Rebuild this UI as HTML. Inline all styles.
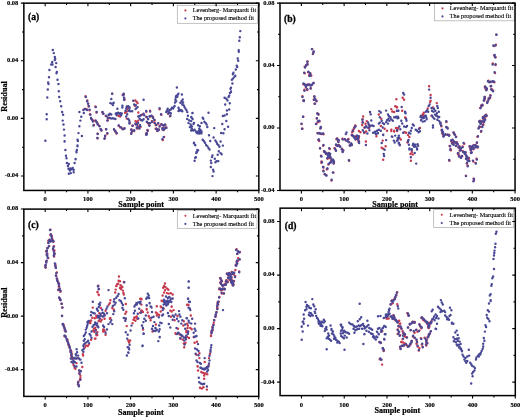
<!DOCTYPE html>
<html><head><meta charset="utf-8"><title>Residual plots</title>
<style>
html,body{margin:0;padding:0;background:#fff;}
body{width:520px;height:417px;overflow:hidden;}
svg{display:block;}
.tk{font-family:"Liberation Serif",serif;font-weight:bold;font-size:6.5px;fill:#000;stroke:#000;stroke-width:0.15px;}
.ttl{font-family:"Liberation Serif",serif;font-weight:bold;font-size:8.1px;fill:#000;stroke:#000;stroke-width:0.2px;}
.pl{font-family:"Liberation Serif",serif;font-weight:bold;font-size:9.6px;fill:#000;stroke:#000;stroke-width:0.3px;}
.rs{font-family:"Liberation Serif",serif;font-weight:bold;font-size:8.2px;fill:#000;stroke:#000;stroke-width:0.2px;}
.lg{font-family:"Liberation Serif",serif;font-size:6.22px;fill:#000;stroke:#000;stroke-width:0.12px;}
</style></head>
<body><svg width="520" height="417" viewBox="0 0 520 417">
<rect width="520" height="417" fill="#fff"/>
<path d="M85.6 96.3h0M87.3 100.5h0M88.1 103.6h0M88.5 106.2h0M84.6 108.9h0M86.6 109.3h0M89.5 110.2h0M89.9 114.3h0M91.2 118.8h0M92.0 119.4h0M93.5 120.7h0M93.9 125.0h0M95.4 106.4h0M96.5 112.5h0M95.4 120.7h0M96.9 122.3h0M97.8 123.6h0M99.1 125.8h0M100.8 129.1h0M101.3 130.4h0M97.6 133.6h0M97.7 138.3h0M106.0 129.3h0M107.3 133.8h0M105.3 135.6h0M105.0 138.1h0M102.4 112.4h0M103.1 113.8h0M105.7 116.1h0M108.0 117.8h0M107.8 120.3h0M109.0 115.0h0M112.2 93.6h0M114.4 130.0h0M115.4 131.5h0M116.4 133.5h0M123.9 94.6h0M129.8 123.1h0M118.7 125.7h0M120.2 127.2h0M122.3 128.5h0M124.1 128.8h0M131.9 130.7h0M134.1 130.9h0M136.6 124.3h0M146.3 111.7h0M135.8 124.4h0M137.8 122.9h0M139.9 125.8h0M137.9 126.5h0M139.0 128.0h0M132.4 125.8h0M131.4 129.4h0M146.2 116.9h0M148.0 119.1h0M150.0 116.6h0M151.5 115.9h0M153.1 116.9h0M154.7 120.2h0M147.2 122.2h0M148.1 122.9h0M149.7 123.3h0M149.0 125.0h0M151.9 121.1h0M150.0 110.8h0M154.3 122.5h0M155.7 124.9h0M157.7 123.8h0M159.7 125.8h0M161.3 124.1h0M163.4 125.1h0M165.4 125.3h0M166.3 127.8h0M156.4 128.4h0M158.7 129.4h0M162.7 127.9h0M163.7 129.9h0M147.5 129.9h0M146.9 133.6h0M159.6 109.2h0M161.4 114.7h0M168.1 113.4h0M170.0 116.2h0M132.0 131.6h0M131.1 133.2h0M137.1 128.6h0M140.5 126.9h0M147.9 130.8h0M146.5 133.1h0M146.0 133.9h0M155.6 128.6h0M157.3 131.0h0M164.1 137.0h0M162.8 140.0h0M164.8 128.2h0M162.7 129.2h0M122.7 94.8h0M124.2 98.4h0M124.5 99.7h0M135.2 100.4h0M136.6 101.7h0M137.6 103.1h0M134.9 105.8h0M127.0 106.9h0M129.0 107.4h0M127.5 109.1h0M126.8 111.5h0M125.1 112.8h0M126.8 118.6h0M117.2 113.7h0M118.7 115.9h0M120.1 116.5h0M138.3 112.5h0M142.3 114.5h0M135.6 121.2h0M136.9 121.9h0M138.3 120.6h0" stroke="#c63a4e" stroke-width="2.45" stroke-linecap="round" fill="none"/>
<path d="M52.8 50.0h0M53.8 53.1h0M54.8 56.9h0M55.2 58.8h0M54.8 60.0h0M52.2 61.9h0M51.2 64.4h0M52.5 64.4h0M56.2 63.1h0M55.6 66.9h0M49.4 70.0h0M56.9 71.9h0M56.5 73.2h0M49.0 77.2h0M57.5 79.8h0M48.1 82.5h0M48.5 84.0h0M58.5 84.0h0M47.8 89.4h0M58.8 91.2h0M47.3 97.5h0M46.7 114.2h0M46.7 119.2h0M45.4 140.8h0M59.2 96.9h0M60.2 101.3h0M61.2 106.2h0M62.1 111.9h0M63.1 114.8h0M62.7 120.6h0M63.5 124.4h0M64.0 129.6h0M64.6 135.4h0M64.6 141.2h0M75.6 159.0h0M76.5 152.3h0M77.5 146.2h0M77.5 139.8h0M78.5 133.1h0M79.4 126.3h0M80.4 120.6h0M81.3 116.7h0M81.9 136.0h0M79.4 111.9h0M83.3 110.0h0M85.8 96.9h0M87.1 101.3h0M88.1 103.8h0M89.0 106.2h0M85.2 109.0h0M87.1 110.0h0M89.6 109.6h0M83.8 112.9h0M90.4 114.8h0M91.0 118.0h0M91.9 119.6h0M92.9 121.5h0M93.5 125.4h0M95.8 107.1h0M96.7 111.9h0M95.8 120.6h0M96.7 122.5h0M97.7 124.4h0M99.6 126.3h0M100.6 129.2h0M101.5 130.2h0M97.7 134.0h0M97.3 137.9h0M106.3 129.2h0M107.3 133.1h0M105.0 136.0h0M104.4 138.8h0M102.5 111.9h0M103.5 113.8h0M106.3 115.8h0M107.7 117.7h0M107.3 120.6h0M108.8 114.8h0M112.1 93.7h0M114.0 129.2h0M115.4 131.2h0M116.9 133.1h0M123.7 93.7h0M129.4 123.5h0M118.8 125.4h0M120.8 127.3h0M122.7 129.2h0M124.6 128.3h0M132.3 131.2h0M134.2 130.2h0M137.1 124.4h0M64.6 141.5h0M65.4 150.0h0M66.0 155.8h0M66.5 158.3h0M66.9 163.0h0M68.8 164.0h0M67.9 166.0h0M68.5 168.8h0M70.4 168.5h0M71.7 169.2h0M69.8 170.4h0M72.7 167.9h0M73.7 169.8h0M68.8 173.7h0M70.8 173.1h0M73.7 172.3h0M74.6 163.0h0M75.6 159.2h0M76.5 151.5h0M76.9 150.0h0M77.5 145.4h0M77.9 141.0h0M146.2 111.0h0M135.4 123.7h0M138.1 123.1h0M140.1 125.1h0M137.4 127.1h0M139.4 128.5h0M132.7 125.8h0M131.3 129.8h0M146.8 117.0h0M148.2 119.0h0M149.5 116.3h0M151.5 115.7h0M152.9 117.7h0M154.2 119.7h0M146.8 121.7h0M148.2 123.1h0M150.2 123.1h0M149.5 125.8h0M152.2 121.7h0M150.2 111.6h0M154.9 123.1h0M156.2 125.1h0M158.3 123.1h0M159.6 126.4h0M161.6 124.4h0M163.6 125.8h0M165.0 124.4h0M166.3 127.8h0M156.9 129.1h0M158.9 129.8h0M162.3 128.5h0M164.3 129.1h0M147.5 130.5h0M146.8 134.5h0M159.6 108.3h0M161.0 114.3h0M168.4 113.6h0M170.4 115.7h0M187.9 115.7h0M187.2 119.0h0M189.2 120.4h0M188.5 123.1h0M190.6 124.4h0M191.9 126.4h0M189.9 127.1h0M192.6 113.0h0M191.2 117.0h0M192.6 119.0h0M194.6 129.8h0M196.0 131.8h0M197.3 133.2h0M132.0 131.1h0M131.3 133.7h0M136.7 127.7h0M140.1 126.3h0M147.5 130.4h0M146.8 133.1h0M146.2 134.7h0M156.2 129.0h0M157.6 130.7h0M163.6 137.1h0M162.3 139.1h0M164.3 128.4h0M163.0 129.7h0M191.9 129.0h0M193.3 130.4h0M196.6 132.4h0M193.9 143.2h0M195.3 145.2h0M197.3 149.9h0M196.6 151.9h0M195.9 157.3h0M194.6 160.7h0M192.3 113.1h0M191.7 117.7h0M191.2 121.1h0M194.0 122.9h0M193.5 124.0h0M190.6 126.9h0M191.7 129.2h0M191.2 130.4h0M202.7 117.7h0M203.3 118.8h0M208.5 112.8h0M201.5 122.9h0M204.4 121.7h0M205.6 122.9h0M206.7 124.6h0M207.3 126.9h0M198.1 125.2h0M199.8 126.3h0M199.2 128.6h0M200.4 129.8h0M198.7 130.9h0M201.5 131.5h0M196.9 132.7h0M199.8 133.3h0M201.5 133.3h0M214.2 128.1h0M230.9 92.1h0M229.2 95.8h0M228.6 96.9h0M224.6 97.8h0M226.3 98.7h0M227.5 100.4h0M225.2 104.4h0M229.8 103.3h0M226.9 110.5h0M229.2 109.4h0M222.9 116.0h0M224.6 115.4h0M226.9 114.2h0M226.3 120.9h0M222.3 124.0h0M228.1 126.7h0M224.6 129.2h0M221.1 132.9h0M223.4 133.3h0M196.3 131.7h0M198.7 131.2h0M200.4 132.3h0M199.2 133.5h0M201.5 131.7h0M209.0 135.2h0M213.6 137.5h0M210.2 141.0h0M202.7 139.8h0M203.8 141.0h0M205.0 142.7h0M206.1 145.0h0M207.3 146.1h0M208.5 147.9h0M209.6 149.6h0M194.0 142.7h0M195.2 145.0h0M215.4 140.4h0M216.5 142.1h0M217.1 143.8h0M218.3 145.0h0M219.4 146.7h0M220.6 141.5h0M222.9 145.6h0M198.1 150.2h0M196.9 151.9h0M196.3 153.1h0M218.8 151.3h0M220.6 153.1h0M221.7 154.2h0M217.7 154.8h0M212.5 155.4h0M211.9 157.1h0M214.8 158.8h0M216.5 161.1h0M218.3 161.1h0M215.4 162.3h0M210.8 160.6h0M211.3 162.9h0M195.2 157.7h0M194.6 160.6h0M210.8 166.9h0M213.1 169.8h0M213.6 171.5h0M212.5 176.1h0M240.3 31.1h0M239.8 37.3h0M239.3 40.7h0M238.7 50.3h0M238.8 51.7h0M237.7 58.5h0M238.2 60.8h0M236.7 65.6h0M237.2 67.0h0M235.8 69.4h0M233.4 72.8h0M232.9 74.2h0M235.3 75.7h0M234.3 77.1h0M232.9 78.6h0M231.9 79.8h0M232.4 83.4h0M231.0 87.7h0M230.5 88.7h0M231.0 91.5h0M230.0 93.0h0M111.3 99.0h0M110.3 103.1h0M112.0 103.7h0M113.7 102.7h0M113.0 105.1h0M123.1 95.3h0M124.1 97.7h0M124.1 99.7h0M122.4 105.8h0M122.4 107.4h0M117.4 108.8h0M133.2 100.7h0M134.2 104.4h0M135.9 105.1h0M136.6 107.8h0M137.6 107.1h0M135.6 109.1h0M143.6 99.7h0M126.8 106.4h0M128.2 106.1h0M129.5 107.1h0M126.2 108.5h0M129.5 108.5h0M125.5 110.8h0M128.8 110.8h0M130.2 111.2h0M132.2 111.2h0M127.2 114.2h0M126.2 116.5h0M128.2 118.9h0M129.2 120.2h0M129.5 121.9h0M115.7 113.8h0M116.7 113.2h0M118.1 112.8h0M119.4 113.8h0M120.4 113.2h0M121.8 113.5h0M116.7 115.2h0M121.1 115.2h0M110.0 113.8h0M111.3 114.5h0M110.0 117.9h0M111.3 118.6h0M112.7 118.2h0M114.0 118.6h0M115.4 118.9h0M138.3 116.5h0M139.6 115.9h0M141.0 115.2h0M143.6 113.8h0M144.3 115.2h0M139.6 118.6h0M141.0 119.9h0M142.3 120.6h0M143.6 119.2h0M176.9 87.5h0M178.5 93.6h0M177.7 94.8h0M176.2 95.9h0M175.8 97.5h0M177.3 96.7h0M181.9 94.4h0M175.4 99.8h0M176.2 101.3h0M175.0 102.5h0M182.7 99.4h0M181.5 101.3h0M180.4 102.8h0M183.1 102.5h0M182.3 104.4h0M183.8 105.5h0M184.6 107.1h0M185.4 108.6h0M186.5 110.2h0M187.3 112.1h0M174.6 105.9h0M173.8 107.1h0M173.1 108.6h0M171.9 107.8h0M170.8 109.4h0M169.6 110.2h0M168.5 111.3h0M167.7 108.6h0M166.9 110.5h0M166.2 112.1h0M169.2 112.8h0M170.8 113.2h0M178.5 107.8h0M179.2 109.4h0M180.4 110.5h0M181.5 110.2h0M182.3 111.3h0M178.5 110.9h0" stroke="#484896" stroke-width="2.45" stroke-linecap="round" fill="none"/>
<path d="M312.2 49.1h0M313.4 52.0h0M312.9 54.0h0M307.7 61.4h0M307.4 64.8h0M306.4 64.9h0M304.7 66.8h0M304.7 73.3h0M308.1 72.3h0M310.5 73.5h0M310.2 75.2h0M309.1 75.2h0M311.3 75.6h0M303.5 84.3h0M304.8 85.1h0M306.7 84.9h0M307.5 84.5h0M308.9 84.6h0M310.4 85.3h0M311.7 85.1h0M313.4 82.9h0M306.0 87.5h0M307.2 90.0h0M310.7 88.4h0M304.4 89.8h0M302.4 96.3h0M303.3 100.8h0M314.1 96.4h0M315.3 98.9h0M313.8 99.8h0M316.5 101.3h0M314.5 103.8h0M303.6 100.6h0M303.3 116.8h0M301.6 124.1h0M302.5 128.7h0M317.5 113.5h0M318.4 114.5h0M316.8 118.4h0M317.9 122.0h0M319.5 121.4h0M316.5 123.6h0M320.9 127.7h0M320.7 127.7h0M317.4 133.1h0M319.3 133.0h0M321.2 134.0h0M323.5 134.2h0M318.4 139.8h0M337.3 138.4h0M319.2 140.9h0M323.2 145.7h0M320.0 148.3h0M329.8 148.9h0M324.0 151.1h0M325.4 152.3h0M326.4 153.3h0M328.1 154.1h0M328.9 153.0h0M329.6 153.7h0M329.8 156.0h0M330.2 158.3h0M327.6 158.7h0M321.0 156.0h0M332.5 160.3h0M331.3 160.6h0M333.9 162.4h0M330.6 162.3h0M328.4 164.5h0M333.7 163.6h0M321.5 161.4h0M323.2 166.9h0M326.8 169.3h0M349.1 160.8h0M336.4 139.3h0M338.3 140.8h0M338.3 141.7h0M336.1 145.2h0M337.1 145.2h0M338.8 144.9h0M339.8 146.2h0M334.5 148.3h0M335.8 150.3h0M342.0 148.8h0M343.2 150.1h0M342.5 151.2h0M342.4 138.7h0M344.9 139.2h0M346.1 140.6h0M348.5 138.9h0M348.9 141.9h0M350.4 145.0h0M349.8 145.4h0M351.5 144.4h0M356.9 136.4h0M354.4 136.9h0M356.1 138.4h0M357.6 138.9h0M358.5 141.9h0M321.0 155.7h0M321.4 162.7h0M323.5 167.6h0M323.3 170.8h0M324.6 174.1h0M326.1 175.3h0M327.2 169.3h0M333.5 172.6h0M331.4 180.6h0M324.0 151.4h0M325.9 153.8h0M328.3 156.9h0M329.6 154.6h0M330.0 157.7h0M331.8 159.6h0M333.5 160.6h0M330.9 161.6h0M353.0 135.7h0M354.6 137.3h0M359.0 136.8h0M378.8 114.4h0M381.3 118.8h0M380.8 126.0h0M391.3 109.1h0M392.3 111.5h0M394.2 112.0h0M395.2 106.3h0M397.1 107.2h0M384.6 128.8h0M387.0 130.8h0M391.3 129.8h0M394.2 130.8h0M398.1 127.9h0M351.8 135.0h0M354.4 136.6h0M355.6 139.4h0M356.2 136.4h0M358.7 137.9h0M351.3 144.1h0M351.5 144.9h0M358.7 140.6h0M365.9 141.5h0M376.4 136.3h0M382.7 140.6h0M381.7 147.8h0M383.2 148.8h0M385.6 146.3h0M383.2 159.8h0M391.3 131.0h0M394.2 131.4h0M397.1 131.0h0M396.4 99.2h0M402.7 97.8h0M404.1 99.7h0M396.0 106.4h0M396.9 107.4h0M402.2 110.8h0M405.1 117.5h0M429.1 86.3h0M430.6 94.9h0M430.6 100.7h0M430.1 102.1h0M427.7 108.4h0M423.8 112.7h0M422.9 114.1h0M421.9 116.1h0M436.8 103.1h0M433.0 107.4h0M405.6 117.8h0M396.0 127.9h0M397.4 129.8h0M404.6 132.2h0M406.1 132.7h0M408.0 135.1h0M409.4 137.0h0M399.3 138.0h0M400.8 139.4h0M420.0 127.9h0M422.9 114.9h0M431.5 115.8h0M408.0 141.0h0M407.5 142.4h0M410.4 154.0h0M411.8 152.0h0M412.8 154.4h0M410.9 160.7h0M440.5 123.3h0M441.4 126.2h0M446.4 122.0h0M446.5 127.3h0M447.4 127.7h0M441.5 130.1h0M442.4 132.4h0M442.5 133.5h0M444.0 135.5h0M443.4 135.7h0M445.7 134.6h0M447.7 134.8h0M449.3 134.9h0M453.8 132.4h0M454.4 134.3h0M456.2 136.6h0M451.4 141.4h0M452.5 139.8h0M453.9 141.7h0M455.7 142.6h0M457.0 142.1h0M457.4 143.9h0M452.3 143.0h0M453.6 143.9h0M449.6 145.9h0M456.1 146.1h0M459.4 146.3h0M460.7 148.1h0M462.6 146.5h0M450.6 149.1h0M464.2 143.7h0M459.6 150.5h0M464.4 152.8h0M465.4 152.1h0M458.0 154.3h0M469.5 146.4h0M470.9 146.7h0M473.7 145.1h0M475.5 145.3h0M477.0 146.7h0M477.7 147.4h0M471.7 147.8h0M473.1 148.2h0M470.7 149.7h0M471.3 152.2h0M476.8 143.0h0M477.4 136.7h0M478.9 127.8h0M479.9 126.9h0M480.9 123.3h0M479.2 121.5h0M483.4 124.8h0M484.0 121.6h0M484.9 119.0h0M483.3 119.0h0M481.0 131.7h0M482.0 126.6h0M482.8 117.4h0M485.2 115.4h0M486.4 116.3h0M450.9 150.2h0M449.4 160.7h0M458.4 153.2h0M459.3 155.7h0M461.1 157.6h0M462.2 156.3h0M462.8 151.1h0M465.3 153.0h0M466.0 155.1h0M466.9 156.9h0M468.9 157.9h0M466.2 158.4h0M467.8 160.4h0M469.0 160.5h0M466.7 163.6h0M467.7 165.8h0M473.4 161.5h0M475.7 162.9h0M476.5 158.7h0M470.9 152.4h0M470.3 148.6h0M473.5 149.2h0M476.1 147.1h0M476.8 146.7h0M465.9 175.8h0M473.5 178.6h0M474.0 180.6h0M458.5 147.5h0M460.6 148.0h0M460.5 149.7h0M496.3 34.6h0M493.9 46.1h0M495.9 44.6h0M494.1 55.4h0M495.6 57.2h0M492.8 63.5h0M495.5 65.0h0M495.0 72.9h0M488.5 80.8h0M488.8 81.6h0M490.8 82.0h0M493.2 81.7h0M494.3 82.2h0M490.7 86.2h0M484.9 87.5h0M486.6 89.3h0M491.5 89.0h0M484.9 86.5h0M486.9 89.2h0M485.8 89.5h0M491.1 86.1h0M491.4 89.3h0M493.1 90.4h0M484.6 96.9h0M484.9 98.8h0M484.3 100.4h0M490.3 95.1h0M490.2 97.9h0M488.5 98.5h0M487.7 101.6h0M487.1 102.4h0M482.6 105.5h0M481.1 105.4h0M480.3 108.0h0M486.0 114.8h0M484.7 116.7h0M482.9 117.2h0M480.1 120.8h0M481.4 121.5h0M482.1 121.6h0M483.6 122.3h0M363.2 116.5h0M362.5 119.2h0M362.5 122.3h0M362.2 125.0h0M365.5 123.7h0M366.8 121.1h0M368.9 125.1h0M364.4 127.4h0M369.1 127.9h0M355.2 125.5h0M354.2 127.4h0M353.7 128.9h0M353.2 131.2h0M352.1 132.2h0M358.9 130.9h0M360.5 132.2h0M364.4 133.1h0M366.1 131.5h0" stroke="#c63a4e" stroke-width="2.45" stroke-linecap="round" fill="none"/>
<path d="M311.9 49.1h0M313.8 51.5h0M313.1 53.5h0M307.1 61.6h0M307.5 64.0h0M306.1 65.5h0M305.1 67.4h0M304.2 72.7h0M308.5 71.7h0M309.9 73.2h0M310.4 75.1h0M309.5 76.1h0M310.7 75.3h0M303.5 83.5h0M304.9 84.4h0M306.3 85.4h0M307.8 84.9h0M309.2 84.4h0M310.7 85.4h0M312.1 84.4h0M313.6 83.0h0M305.9 86.8h0M307.3 89.2h0M310.7 88.3h0M304.4 90.7h0M302.5 96.9h0M303.9 100.3h0M314.5 96.4h0M315.0 98.8h0M314.0 99.8h0M316.4 100.8h0M315.0 103.7h0M303.9 101.0h0M303.0 116.8h0M301.5 123.6h0M302.0 128.8h0M317.4 113.5h0M318.4 114.2h0M316.9 118.3h0M317.9 121.2h0M319.3 120.7h0M316.0 124.0h0M320.8 126.9h0M320.3 128.4h0M317.9 133.2h0M319.8 133.5h0M321.7 133.7h0M323.2 133.5h0M318.8 139.4h0M337.1 139.0h0M318.7 140.1h0M323.5 144.9h0M320.1 148.3h0M329.2 148.3h0M324.4 151.2h0M325.4 152.6h0M326.8 153.6h0M327.8 155.0h0M328.8 153.1h0M330.2 154.0h0M329.7 156.0h0M330.7 157.4h0M327.3 157.9h0M321.5 156.4h0M333.1 159.8h0M331.6 161.3h0M334.0 161.7h0M330.2 162.7h0M328.8 163.7h0M333.6 163.2h0M322.0 162.2h0M323.0 167.0h0M327.3 168.5h0M348.9 160.3h0M336.9 138.7h0M338.8 140.1h0M338.4 142.0h0M336.0 144.4h0M337.4 145.9h0M338.8 145.4h0M340.3 146.8h0M335.0 148.8h0M336.0 150.7h0M341.7 149.2h0M343.2 150.7h0M342.7 152.1h0M342.7 139.6h0M344.6 139.1h0M346.5 140.6h0M348.0 139.6h0M348.5 142.0h0M350.4 144.4h0M349.9 145.4h0M351.3 143.5h0M357.1 135.8h0M354.2 136.7h0M356.2 138.7h0M358.1 139.6h0M359.0 141.5h0M321.3 156.3h0M321.9 162.1h0M323.1 167.3h0M323.6 171.3h0M324.8 174.2h0M326.5 175.4h0M327.5 168.5h0M332.9 172.5h0M331.7 179.8h0M324.2 151.7h0M326.5 154.0h0M328.3 156.9h0M330.0 154.6h0M330.6 158.1h0M332.3 159.8h0M334.0 161.5h0M331.1 162.1h0M372.1 125.5h0M373.6 126.0h0M352.9 135.6h0M354.3 137.0h0M358.7 136.1h0M373.1 132.7h0M375.0 131.7h0M376.9 130.8h0M376.0 134.1h0M377.9 133.2h0M378.8 129.8h0M379.3 111.1h0M380.8 112.5h0M379.8 117.3h0M381.7 120.7h0M379.8 122.6h0M378.8 123.6h0M382.7 123.1h0M384.1 124.0h0M382.7 127.4h0M380.8 130.8h0M383.2 134.6h0M386.1 110.6h0M388.0 114.4h0M388.9 115.9h0M390.4 117.3h0M388.5 118.8h0M387.0 120.2h0M386.1 122.1h0M388.0 123.6h0M389.4 120.7h0M391.3 119.2h0M392.8 120.7h0M398.1 110.6h0M394.2 117.3h0M396.2 116.8h0M397.6 118.3h0M397.1 130.3h0M383.2 135.1h0M391.8 136.5h0M395.2 135.6h0M397.6 138.0h0M351.9 135.3h0M353.8 137.2h0M355.3 139.1h0M356.7 135.8h0M358.2 137.7h0M351.0 143.5h0M351.9 144.9h0M359.1 143.0h0M365.9 144.9h0M374.0 132.4h0M376.0 133.8h0M377.9 132.9h0M383.2 134.8h0M381.7 143.0h0M386.1 140.1h0M384.6 149.7h0M383.7 154.0h0M384.1 156.0h0M392.3 136.7h0M393.8 140.6h0M394.7 142.5h0M398.1 139.6h0M399.0 137.7h0M399.0 143.5h0M403.2 93.0h0M404.1 94.4h0M396.9 110.8h0M398.4 110.8h0M401.7 106.9h0M405.1 111.7h0M405.6 113.2h0M396.9 117.0h0M398.4 118.0h0M406.1 118.9h0M429.1 89.6h0M430.6 97.8h0M429.6 104.5h0M428.7 106.0h0M427.2 110.3h0M428.2 111.7h0M425.8 111.7h0M424.8 115.6h0M420.5 117.0h0M423.8 118.0h0M426.3 117.5h0M437.3 106.0h0M437.8 107.9h0M431.5 107.9h0M433.9 108.8h0M432.0 110.8h0M433.5 111.7h0M435.4 110.8h0M436.8 113.2h0M438.8 111.7h0M434.9 114.6h0M437.3 116.1h0M439.2 117.0h0M432.0 115.6h0M396.0 117.3h0M397.9 116.8h0M405.1 112.5h0M406.5 120.7h0M401.3 120.7h0M402.2 123.5h0M399.3 126.4h0M400.3 129.3h0M404.1 126.4h0M406.1 126.9h0M407.0 126.0h0M403.2 132.7h0M412.8 124.5h0M413.8 125.5h0M411.8 127.9h0M410.9 130.8h0M408.9 132.7h0M410.4 133.6h0M408.5 139.9h0M408.0 141.8h0M408.9 144.7h0M398.8 135.6h0M397.9 138.9h0M396.9 140.8h0M398.8 142.8h0M399.8 144.7h0M415.7 129.8h0M417.1 130.8h0M419.0 128.8h0M420.0 131.2h0M418.6 132.2h0M413.3 143.7h0M414.2 145.2h0M415.7 146.6h0M417.6 144.2h0M417.1 148.5h0M409.4 148.5h0M411.8 150.0h0M421.0 115.8h0M423.8 116.8h0M425.8 115.8h0M422.4 118.3h0M421.0 120.2h0M422.9 121.6h0M424.8 121.1h0M426.7 119.2h0M433.0 117.3h0M434.4 118.7h0M436.3 115.8h0M438.3 117.3h0M437.3 119.7h0M433.0 125.5h0M433.0 127.4h0M439.2 121.1h0M440.2 123.5h0M441.2 125.5h0M442.1 129.8h0M443.1 132.2h0M444.0 135.1h0M443.6 136.5h0M398.8 143.4h0M399.8 145.3h0M408.9 144.8h0M409.4 149.6h0M411.8 149.1h0M412.8 145.3h0M414.2 146.7h0M415.2 144.8h0M417.6 144.3h0M418.1 145.8h0M417.1 149.6h0M414.7 153.0h0M410.9 157.3h0M416.2 163.6h0M440.5 122.7h0M441.0 125.6h0M446.3 121.3h0M446.3 127.0h0M447.7 128.5h0M441.9 130.4h0M442.9 131.8h0M442.4 133.3h0M443.8 135.2h0M443.4 136.6h0M445.3 134.2h0M447.7 134.7h0M449.1 135.7h0M453.5 132.8h0M454.9 134.7h0M455.9 137.1h0M451.1 140.5h0M452.5 140.0h0M453.9 141.4h0M455.4 142.4h0M456.8 142.9h0M457.8 144.3h0M452.0 143.4h0M453.5 144.8h0M450.1 146.3h0M455.9 145.8h0M459.2 146.7h0M460.7 148.2h0M462.6 147.2h0M450.1 149.6h0M463.6 142.9h0M460.2 150.6h0M464.0 152.0h0M465.5 152.5h0M458.3 153.5h0M469.8 146.3h0M471.3 146.7h0M473.2 145.8h0M475.1 145.3h0M476.5 146.3h0M478.0 146.7h0M471.7 148.7h0M473.7 148.2h0M470.8 150.1h0M471.7 152.5h0M477.0 142.4h0M478.0 136.2h0M478.5 128.5h0M479.4 126.5h0M480.4 123.7h0M479.4 121.7h0M482.8 124.6h0M484.2 121.7h0M485.2 119.8h0M483.8 118.4h0M481.3 130.9h0M482.3 127.0h0M485.2 116.0h0M486.6 115.5h0M450.4 149.6h0M449.2 160.0h0M457.9 153.1h0M459.0 156.5h0M460.8 157.7h0M461.9 156.0h0M463.1 151.9h0M464.8 153.7h0M466.0 155.4h0M467.1 156.5h0M468.3 158.3h0M466.0 158.8h0M467.7 160.6h0M469.4 161.1h0M467.1 162.9h0M467.7 166.3h0M472.9 160.6h0M475.8 163.5h0M476.9 159.4h0M471.1 153.1h0M470.6 149.0h0M473.4 148.5h0M475.8 147.3h0M476.9 146.7h0M466.0 176.1h0M474.0 179.0h0M473.4 181.3h0M458.5 147.3h0M460.2 148.5h0M460.8 150.2h0M496.4 34.7h0M493.4 45.5h0M495.5 45.5h0M494.7 55.0h0M495.1 57.2h0M492.7 64.4h0M495.6 64.2h0M494.6 72.3h0M487.9 81.3h0M489.3 82.2h0M490.8 81.7h0M492.7 81.3h0M494.1 81.7h0M490.8 86.1h0M485.5 87.0h0M486.9 88.5h0M491.3 89.4h0M485.3 86.9h0M486.7 88.8h0M486.3 90.3h0M491.1 86.0h0M491.5 89.8h0M493.0 91.3h0M484.8 97.0h0M484.3 98.5h0M483.8 100.4h0M490.6 95.6h0M489.6 97.5h0M488.7 99.4h0M487.7 101.3h0M487.2 102.8h0M482.4 104.7h0M481.4 106.2h0M480.5 108.1h0M485.8 115.3h0M484.3 116.3h0M482.9 117.7h0M479.5 121.1h0M481.0 122.0h0M482.4 121.1h0M483.8 121.5h0M370.0 111.9h0M370.7 114.2h0M362.5 119.8h0M362.8 122.4h0M368.1 122.4h0M368.7 124.3h0M366.1 126.3h0M364.8 127.6h0M367.4 127.6h0M369.4 127.0h0M370.7 125.6h0M371.3 120.4h0M355.6 126.3h0M354.7 127.6h0M352.7 130.5h0M346.5 132.5h0M345.8 134.1h0M362.8 130.2h0M364.1 132.2h0M367.4 133.5h0M369.4 130.2h0" stroke="#484896" stroke-width="2.45" stroke-linecap="round" fill="none"/>
<path d="M50.5 229.7h0M50.4 235.0h0M51.8 235.7h0M52.1 238.3h0M49.4 239.7h0M48.4 240.6h0M48.2 242.8h0M51.3 240.8h0M52.9 240.3h0M53.3 241.8h0M49.2 246.1h0M47.2 248.1h0M46.7 251.2h0M46.1 251.3h0M54.0 246.1h0M53.0 249.4h0M47.2 253.4h0M46.7 255.0h0M54.7 253.4h0M54.1 256.5h0M47.0 253.9h0M48.2 257.9h0M46.4 261.0h0M46.1 262.1h0M45.2 265.4h0M45.8 267.5h0M54.4 250.5h0M54.1 254.3h0M55.4 264.3h0M55.3 265.5h0M55.8 267.8h0M56.8 272.5h0M56.3 275.9h0M57.2 278.9h0M57.4 280.5h0M58.1 282.5h0M59.1 283.8h0M58.8 286.6h0M59.4 288.2h0M58.1 289.9h0M60.4 291.7h0M59.6 298.4h0M59.8 298.2h0M60.1 299.9h0M61.8 303.7h0M62.2 307.5h0M62.1 316.1h0M63.3 324.5h0M98.3 285.7h0M99.0 288.9h0M97.6 292.2h0M98.6 294.6h0M92.8 307.6h0M92.3 317.7h0M94.7 318.2h0M96.2 315.8h0M89.4 321.1h0M90.4 323.0h0M98.6 321.1h0M62.8 324.1h0M64.0 325.8h0M64.3 327.7h0M64.7 330.3h0M65.7 331.2h0M64.5 336.3h0M65.6 336.3h0M66.9 339.1h0M67.6 340.0h0M68.0 342.7h0M68.9 344.7h0M68.8 345.6h0M69.4 347.3h0M71.0 350.4h0M71.4 352.0h0M71.7 354.0h0M71.5 356.6h0M72.3 357.3h0M68.5 345.0h0M70.4 351.7h0M82.9 354.1h0M84.8 347.4h0M85.8 345.5h0M87.7 346.0h0M88.7 344.5h0M91.1 339.7h0M93.0 330.6h0M94.4 332.0h0M97.3 334.9h0M94.9 338.8h0M95.4 327.7h0M93.9 328.7h0M90.1 322.9h0M91.1 320.5h0M99.2 320.5h0M100.7 321.4h0M104.0 329.6h0M103.1 331.5h0M71.2 355.4h0M83.1 355.4h0M72.3 359.2h0M77.7 358.1h0M76.5 363.1h0M82.3 366.9h0M73.5 365.0h0M74.6 367.7h0M75.4 368.8h0M79.3 370.6h0M80.5 371.0h0M79.2 373.3h0M80.4 375.8h0M80.4 378.1h0M80.1 379.8h0M78.3 381.8h0M77.9 384.3h0M79.0 385.6h0M97.4 292.0h0M98.8 294.9h0M119.0 281.0h0M118.1 283.8h0M116.6 285.8h0M120.5 285.3h0M121.9 287.2h0M121.0 289.1h0M122.9 290.6h0M123.4 293.0h0M123.8 294.4h0M115.7 289.6h0M115.2 292.5h0M123.8 281.9h0M125.8 304.0h0M126.3 311.7h0M125.3 313.7h0M110.4 300.2h0M109.9 303.1h0M108.9 304.5h0M105.6 310.8h0M112.3 307.9h0M113.8 309.8h0M100.8 307.9h0M99.3 313.2h0M104.6 315.1h0M96.9 317.5h0M110.4 318.0h0M140.2 298.8h0M141.6 299.2h0M141.2 310.8h0M142.6 311.7h0M140.2 312.7h0M136.8 316.5h0M134.4 318.0h0M125.8 318.9h0M119.0 276.4h0M118.6 280.8h0M120.0 281.3h0M117.1 284.1h0M116.2 286.1h0M121.0 285.6h0M122.4 287.0h0M120.0 288.0h0M99.3 320.8h0M101.7 319.8h0M104.6 318.8h0M109.9 318.8h0M96.0 329.9h0M97.4 332.3h0M96.4 335.2h0M95.5 338.6h0M103.2 329.4h0M104.6 330.9h0M105.6 334.7h0M126.7 326.1h0M128.2 340.5h0M130.1 340.5h0M129.1 342.4h0M132.5 323.2h0M133.5 319.8h0M134.4 317.4h0M136.3 316.9h0M137.3 318.8h0M135.4 320.8h0M143.1 329.4h0M165.0 283.5h0M164.0 285.9h0M165.5 287.3h0M163.1 287.8h0M167.4 288.8h0M165.0 290.2h0M168.4 289.7h0M164.0 292.6h0M166.9 293.1h0M168.8 293.6h0M170.8 293.1h0M172.7 294.5h0M162.6 295.5h0M161.6 300.8h0M160.7 306.5h0M171.7 306.5h0M156.8 306.1h0M141.0 298.8h0M141.4 304.6h0M146.7 308.9h0M188.6 305.1h0M141.9 310.6h0M142.9 312.0h0M146.7 309.6h0M147.7 312.5h0M148.7 315.9h0M149.6 317.8h0M150.6 320.2h0M155.9 324.5h0M155.9 312.5h0M157.3 313.5h0M156.8 315.4h0M159.2 314.9h0M160.7 311.5h0M163.6 308.7h0M156.8 306.3h0M161.2 307.2h0M162.1 301.0h0M171.7 306.7h0M170.3 310.6h0M171.7 311.5h0M173.7 310.1h0M170.8 316.8h0M177.5 315.9h0M174.6 320.2h0M183.8 321.2h0M183.3 325.5h0M187.1 323.6h0M178.0 328.8h0M187.6 327.9h0M175.6 333.2h0M181.8 336.1h0M189.0 338.0h0M187.1 304.8h0M152.5 331.4h0M175.6 333.8h0M179.4 334.3h0M180.4 338.7h0M182.8 339.6h0M187.1 336.7h0M186.2 331.9h0M188.1 331.4h0M183.8 343.5h0M184.2 347.3h0M187.9 305.1h0M220.4 278.2h0M221.9 281.2h0M220.6 283.2h0M222.4 285.5h0M224.6 284.2h0M225.5 284.8h0M219.5 288.4h0M220.9 290.0h0M222.8 288.9h0M224.7 289.0h0M221.9 293.5h0M223.8 293.1h0M219.4 296.9h0M217.6 302.4h0M217.6 304.3h0M217.1 306.8h0M217.2 308.3h0M225.7 281.6h0M228.0 275.0h0M228.7 273.1h0M230.5 274.8h0M231.7 272.0h0M233.6 274.6h0M228.3 277.7h0M231.1 279.9h0M231.7 279.9h0M233.6 284.4h0M231.2 281.7h0M187.9 304.8h0M190.8 315.4h0M187.9 325.5h0M190.3 327.9h0M191.7 329.3h0M186.4 330.8h0M186.4 337.0h0M218.7 301.7h0M218.2 304.5h0M217.6 308.5h0M216.6 312.0h0M215.7 315.0h0M215.7 316.2h0M214.0 320.0h0M213.8 322.6h0M213.4 324.8h0M212.4 326.9h0M212.7 330.0h0M211.3 331.4h0M211.7 332.4h0M211.0 336.1h0M186.4 336.9h0M185.5 342.7h0M193.7 336.9h0M194.6 342.7h0M197.0 341.7h0M199.4 353.3h0M196.5 354.7h0M199.4 358.1h0M204.7 361.9h0M197.5 366.3h0M208.6 365.3h0M198.0 370.6h0M201.3 372.0h0M203.3 373.0h0M205.2 373.5h0M209.0 358.1h0M210.0 353.8h0M211.0 335.5h0M197.7 366.5h0M198.1 370.4h0M201.5 372.3h0M203.5 373.1h0M205.4 373.5h0M207.3 374.2h0M204.2 375.4h0M204.2 378.8h0M200.0 387.7h0M201.9 388.5h0M203.5 387.3h0M206.9 389.6h0M236.6 249.3h0M238.2 251.6h0M239.8 252.0h0M237.2 253.9h0M238.1 258.1h0M239.5 259.5h0M236.8 261.4h0M236.7 263.7h0M235.8 264.9h0M237.6 260.9h0M236.8 262.5h0M236.2 265.1h0M235.4 270.0h0M233.8 272.6h0M232.6 273.7h0M239.2 271.5h0M235.2 276.1h0M229.9 274.0h0M228.5 273.4h0M226.9 273.6h0M230.1 275.1h0M231.6 277.8h0M228.4 278.3h0M229.6 280.1h0M231.5 281.2h0M234.0 280.9h0M232.6 284.3h0M232.6 285.1h0M226.5 280.2h0M227.8 281.9h0M225.4 284.0h0M222.7 286.2h0M220.0 278.1h0M221.5 280.5h0M220.2 282.5h0M219.2 289.3h0M222.1 289.9h0M223.8 289.3h0" stroke="#c63a4e" stroke-width="2.45" stroke-linecap="round" fill="none"/>
<path d="M50.0 230.0h0M50.8 234.2h0M51.5 236.5h0M51.9 238.5h0M49.6 240.0h0M48.8 241.5h0M48.5 243.1h0M50.8 241.5h0M52.3 240.8h0M53.5 241.2h0M48.8 246.2h0M47.7 248.1h0M46.9 250.4h0M46.5 251.5h0M53.5 246.9h0M53.1 248.8h0M46.9 254.2h0M47.3 255.8h0M54.2 253.8h0M53.8 255.8h0M47.2 254.3h0M47.7 257.7h0M46.7 260.6h0M46.3 262.5h0M45.8 264.9h0M45.3 267.3h0M53.9 251.4h0M54.4 254.3h0M54.9 263.5h0M55.4 265.9h0M55.9 267.8h0M56.3 273.1h0M55.9 275.5h0M56.8 278.4h0M57.3 280.8h0M58.3 282.7h0M58.8 284.6h0M59.2 286.1h0M59.7 289.0h0M58.7 289.8h0M60.6 290.8h0M59.1 297.5h0M60.1 298.9h0M60.6 299.9h0M61.5 303.8h0M62.5 307.6h0M62.0 315.8h0M63.0 323.9h0M98.1 286.4h0M98.6 289.3h0M92.8 301.8h0M97.1 309.5h0M99.0 304.2h0M91.3 311.9h0M93.3 312.9h0M94.7 313.4h0M90.9 315.3h0M98.1 317.2h0M87.5 322.0h0M95.2 322.5h0M97.1 323.5h0M62.7 324.3h0M63.7 326.3h0M64.6 328.2h0M65.1 329.6h0M65.6 331.5h0M64.6 335.4h0M65.6 336.8h0M66.5 338.8h0M67.0 340.7h0M68.0 342.1h0M68.5 344.0h0M69.4 346.0h0M69.9 347.9h0M70.4 350.3h0M70.9 352.2h0M71.3 354.1h0M71.8 356.1h0M71.8 358.0h0M76.6 349.3h0M77.1 352.2h0M75.7 354.1h0M78.1 355.6h0M74.2 358.0h0M76.6 358.5h0M79.0 358.5h0M80.0 359.4h0M82.4 350.3h0M83.4 351.7h0M83.8 348.8h0M83.4 346.0h0M83.8 344.5h0M85.3 343.1h0M86.7 342.1h0M88.2 340.7h0M89.1 343.1h0M83.8 340.7h0M84.8 339.2h0M83.8 335.9h0M84.8 334.4h0M85.8 332.5h0M85.8 329.6h0M86.7 327.7h0M87.2 325.8h0M87.7 323.8h0M88.2 321.9h0M89.6 333.9h0M90.6 335.4h0M91.5 337.8h0M91.5 331.5h0M95.4 330.6h0M96.3 333.5h0M92.5 326.7h0M93.5 325.3h0M94.9 324.3h0M96.3 323.8h0M97.3 325.8h0M98.3 327.2h0M88.7 321.0h0M103.1 325.8h0M76.2 355.4h0M70.8 358.5h0M73.5 360.4h0M75.4 358.5h0M80.4 359.6h0M71.5 361.9h0M73.1 362.7h0M75.0 362.3h0M81.5 362.7h0M74.6 366.2h0M76.5 366.5h0M79.2 370.4h0M80.8 371.2h0M79.6 373.8h0M80.4 379.6h0M78.1 382.3h0M78.5 384.6h0M78.8 386.2h0M97.9 286.3h0M98.8 289.1h0M108.5 290.1h0M118.6 293.9h0M117.6 295.9h0M116.2 297.8h0M114.2 299.2h0M113.8 301.6h0M115.7 302.6h0M114.7 304.5h0M112.8 306.0h0M119.5 300.2h0M121.0 301.2h0M121.9 303.1h0M122.9 305.0h0M122.4 307.9h0M123.4 309.8h0M124.8 298.3h0M107.5 306.4h0M106.5 308.8h0M107.0 313.2h0M114.2 311.3h0M100.3 302.6h0M99.8 305.0h0M98.8 306.9h0M102.2 309.8h0M96.9 308.8h0M97.9 310.8h0M100.8 313.7h0M102.7 312.7h0M104.1 313.7h0M103.2 316.5h0M100.8 315.6h0M97.9 315.6h0M99.8 318.5h0M113.3 314.1h0M136.3 303.1h0M137.8 302.6h0M139.2 302.1h0M140.2 303.6h0M135.4 305.0h0M134.4 306.4h0M136.8 304.5h0M139.2 308.8h0M137.8 313.7h0M134.9 310.8h0M133.9 313.2h0M138.3 318.5h0M123.8 318.0h0M124.3 282.2h0M99.8 316.0h0M102.7 316.4h0M104.6 315.5h0M111.3 320.3h0M110.4 322.2h0M108.5 324.1h0M112.3 324.1h0M96.0 324.6h0M97.9 326.5h0M103.2 325.6h0M104.1 327.0h0M107.0 329.4h0M105.6 332.8h0M125.8 318.4h0M125.3 320.8h0M125.8 332.3h0M127.7 334.7h0M127.2 338.6h0M129.6 344.8h0M128.7 347.7h0M128.2 352.5h0M131.5 325.6h0M130.6 330.4h0M142.1 325.6h0M143.6 333.8h0M142.6 345.8h0M127.7 347.3h0M129.2 349.2h0M128.5 352.7h0M126.9 355.4h0M142.7 345.8h0M166.0 296.4h0M167.9 297.9h0M169.3 296.9h0M170.8 298.8h0M172.7 298.4h0M164.0 299.8h0M165.5 301.3h0M167.4 300.8h0M168.8 302.2h0M169.8 300.8h0M165.0 303.2h0M163.6 304.6h0M167.9 303.7h0M166.4 305.6h0M163.1 308.0h0M171.3 301.7h0M147.7 293.6h0M148.7 295.5h0M147.2 297.4h0M149.1 297.9h0M146.3 298.8h0M149.6 303.2h0M146.7 305.6h0M150.6 306.5h0M151.5 307.5h0M140.5 301.7h0M188.6 281.5h0M188.6 287.8h0M188.1 298.8h0M189.0 301.7h0M141.0 312.5h0M145.8 315.4h0M144.3 318.8h0M143.4 322.1h0M145.8 320.7h0M141.9 325.5h0M142.9 327.9h0M143.8 333.7h0M149.6 302.9h0M151.1 306.7h0M146.7 305.3h0M152.0 312.0h0M151.5 317.8h0M153.5 316.8h0M154.4 322.1h0M155.4 327.9h0M153.0 326.0h0M152.0 328.8h0M153.5 330.8h0M156.8 329.8h0M159.2 325.5h0M159.7 329.3h0M158.8 331.3h0M158.8 317.3h0M162.6 310.1h0M162.1 315.4h0M163.1 314.4h0M160.2 322.6h0M161.6 323.1h0M159.7 337.0h0M164.0 301.9h0M165.5 302.9h0M167.4 301.4h0M169.8 301.0h0M171.3 301.9h0M166.0 304.8h0M167.9 304.3h0M167.9 313.0h0M168.8 315.9h0M172.7 315.4h0M174.1 316.8h0M175.6 314.4h0M179.0 311.1h0M179.4 314.4h0M180.4 316.8h0M172.7 319.7h0M177.0 318.8h0M178.5 321.2h0M168.8 324.0h0M170.3 327.4h0M182.3 320.2h0M181.3 323.6h0M185.2 324.5h0M186.6 318.3h0M188.6 320.7h0M176.5 327.9h0M185.2 328.8h0M188.1 331.7h0M177.0 334.1h0M178.5 332.7h0M180.4 334.6h0M183.8 337.5h0M186.2 335.6h0M180.4 338.0h0M188.6 307.7h0M143.4 333.8h0M155.4 331.0h0M158.8 331.4h0M159.7 337.2h0M158.3 341.1h0M142.4 345.9h0M178.0 332.9h0M180.9 334.8h0M182.3 335.8h0M184.2 340.6h0M185.2 337.7h0M184.7 344.4h0M188.8 281.5h0M188.8 287.8h0M187.9 298.8h0M189.8 301.7h0M189.8 308.5h0M220.6 278.7h0M221.5 281.1h0M221.1 283.9h0M222.5 285.4h0M224.4 284.9h0M225.9 284.4h0M219.6 288.8h0M221.1 289.2h0M223.0 288.8h0M224.9 289.2h0M221.5 292.6h0M224.0 293.6h0M219.1 297.4h0M218.2 301.7h0M217.7 303.7h0M217.2 306.1h0M217.2 308.9h0M226.3 281.5h0M227.8 274.3h0M229.2 272.9h0M230.7 274.8h0M232.1 272.4h0M233.6 273.8h0M228.8 277.7h0M230.7 279.1h0M232.1 280.6h0M233.1 283.5h0M231.2 282.5h0M189.8 301.9h0M189.3 308.2h0M190.3 310.1h0M186.9 318.3h0M192.2 318.8h0M189.3 322.6h0M191.3 323.6h0M195.1 323.6h0M194.6 328.8h0M195.6 330.8h0M193.7 332.7h0M187.9 333.7h0M196.1 336.1h0M194.1 337.0h0M218.2 301.9h0M217.7 304.3h0M217.2 309.1h0M216.3 312.5h0M215.8 314.4h0M215.3 316.8h0M214.3 320.2h0M213.4 325.0h0M212.9 327.4h0M212.4 329.3h0M211.9 331.3h0M211.4 333.2h0M223.0 310.1h0M186.0 339.3h0M195.6 336.4h0M196.5 336.0h0M198.0 344.1h0M195.1 348.5h0M197.0 349.4h0M198.5 350.9h0M195.6 353.8h0M198.5 355.2h0M196.5 360.5h0M197.5 361.9h0M199.9 362.9h0M200.9 363.8h0M204.7 358.1h0M200.4 367.7h0M202.3 368.7h0M204.2 369.6h0M205.7 368.7h0M207.6 367.7h0M209.0 363.4h0M207.1 371.5h0M208.1 370.1h0M209.5 360.5h0M209.5 355.7h0M210.5 351.8h0M210.5 349.9h0M211.0 347.5h0M211.4 345.1h0M200.8 367.7h0M203.1 368.8h0M205.4 368.1h0M206.9 366.9h0M208.5 366.2h0M198.8 377.7h0M199.2 382.3h0M200.8 383.5h0M202.7 384.2h0M204.2 383.8h0M206.9 386.5h0M236.2 250.0h0M238.1 251.5h0M239.6 252.3h0M237.3 253.8h0M239.6 259.2h0M236.9 261.5h0M237.3 263.5h0M235.8 265.4h0M237.3 260.4h0M236.9 263.1h0M236.2 265.8h0M234.2 272.7h0M233.1 273.8h0M239.2 272.3h0M235.0 276.9h0M229.6 273.5h0M228.5 274.2h0M226.9 273.8h0M229.6 275.8h0M231.2 276.9h0M228.1 277.7h0M230.0 279.2h0M231.5 280.4h0M233.5 281.5h0M232.3 283.5h0M233.1 285.4h0M226.2 280.8h0M227.3 282.3h0M225.0 284.6h0M222.7 285.4h0M220.4 278.5h0M221.5 280.8h0M220.8 283.1h0M219.6 288.5h0M221.9 289.2h0M224.2 288.8h0" stroke="#484896" stroke-width="2.45" stroke-linecap="round" fill="none"/>
<path d="M382.3 331.3h0M387.1 317.8h0M379.2 342.1h0M380.9 342.7h0M383.0 348.4h0M383.7 350.9h0M379.7 359.3h0M381.4 359.6h0M382.1 364.6h0M397.2 292.3h0M396.5 295.2h0M395.2 297.5h0M394.8 298.3h0M393.8 299.6h0M391.9 300.5h0M392.7 303.2h0M390.7 304.5h0M397.3 304.2h0M386.7 318.7h0M392.3 317.3h0M393.3 315.2h0M394.5 317.6h0M395.4 320.3h0M396.4 320.6h0M398.0 321.6h0M399.2 320.6h0M400.2 323.5h0M407.3 313.1h0M408.3 315.5h0M412.4 322.2h0M414.7 322.0h0M409.9 323.9h0M421.4 318.0h0M423.0 318.5h0M424.7 320.8h0M427.5 322.5h0M428.9 323.1h0M393.8 319.1h0M396.0 320.0h0M397.5 322.1h0M399.2 320.8h0M399.7 324.1h0M398.8 326.5h0M400.4 327.2h0M401.1 328.6h0M397.7 329.4h0M398.7 332.3h0M397.7 333.9h0M400.2 335.1h0M402.6 330.9h0M403.2 333.0h0M405.0 334.5h0M403.5 335.1h0M405.0 336.6h0M406.7 337.2h0M402.6 339.3h0M401.2 341.9h0M403.1 342.4h0M405.0 343.4h0M406.3 344.7h0M403.4 345.9h0M402.4 345.7h0M400.5 346.6h0M400.4 348.4h0M407.6 345.9h0M409.1 346.2h0M410.5 344.4h0M411.6 342.0h0M411.8 340.9h0M408.2 327.5h0M410.5 330.2h0M410.4 324.1h0M412.2 322.3h0M412.9 321.7h0M414.6 322.7h0M414.0 331.7h0M414.6 332.8h0M416.4 329.6h0M417.5 331.8h0M419.4 330.6h0M412.9 336.4h0M414.8 337.9h0M416.7 340.4h0M417.0 342.5h0M416.5 343.8h0M417.7 346.4h0M419.4 348.2h0M418.8 350.5h0M419.5 324.3h0M420.1 326.3h0M421.3 328.2h0M420.9 338.1h0M421.8 344.6h0M422.6 346.6h0M424.6 337.8h0M426.4 341.2h0M427.3 343.3h0M427.6 337.3h0M428.8 334.8h0M422.7 318.6h0M423.3 320.0h0M425.7 321.6h0M426.1 321.7h0M427.6 322.9h0M429.4 326.2h0M428.8 328.1h0M388.7 318.4h0M392.7 318.4h0M408.3 314.8h0M431.6 321.2h0M430.6 323.1h0M426.0 321.7h0M427.4 323.7h0M428.2 325.2h0M428.1 327.4h0M425.5 321.4h0M426.7 322.6h0M429.4 324.8h0M429.2 326.9h0M430.7 322.2h0M430.7 331.6h0M429.6 333.9h0M428.8 334.9h0M428.3 336.6h0M426.8 339.6h0M426.3 342.6h0M426.3 345.4h0" stroke="#c63a4e" stroke-width="2.45" stroke-linecap="round" fill="none"/>
<path d="M312.3 299.1h0M305.6 302.0h0M307.0 304.9h0M306.5 306.8h0M308.5 306.3h0M309.4 307.8h0M310.9 308.3h0M305.1 310.2h0M306.5 309.2h0M313.3 304.4h0M314.2 306.3h0M315.7 309.2h0M314.7 311.6h0M315.2 313.1h0M309.4 312.6h0M310.9 313.1h0M311.8 314.5h0M308.9 315.0h0M310.4 316.0h0M312.8 315.5h0M303.7 314.5h0M316.2 316.0h0M317.1 317.9h0M318.1 319.3h0M319.5 321.3h0M318.6 322.7h0M320.5 323.2h0M321.9 321.7h0M323.8 319.8h0M324.8 321.3h0M321.0 325.1h0M322.4 326.1h0M304.1 318.8h0M302.7 321.7h0M303.7 323.7h0M301.7 326.5h0M308.0 325.6h0M326.3 327.0h0M330.6 325.4h0M331.5 328.9h0M340.7 324.6h0M342.1 327.0h0M303.2 321.4h0M303.7 323.8h0M301.7 326.7h0M302.7 331.5h0M301.7 339.7h0M318.6 321.0h0M320.0 322.9h0M321.4 324.3h0M320.5 325.8h0M322.4 326.3h0M319.0 323.8h0M323.8 322.4h0M326.3 327.2h0M325.3 328.7h0M324.8 331.1h0M326.7 329.6h0M331.5 330.1h0M333.0 331.5h0M332.0 333.5h0M333.5 334.4h0M334.4 336.3h0M335.4 337.8h0M334.0 338.8h0M335.9 339.7h0M337.3 340.7h0M338.8 341.6h0M339.7 343.1h0M337.3 342.6h0M328.2 333.5h0M329.1 335.4h0M327.7 336.8h0M328.7 338.8h0M330.1 339.7h0M331.1 340.7h0M326.7 338.3h0M326.7 349.3h0M341.2 324.8h0M342.6 327.2h0M342.1 330.1h0M343.6 332.0h0M340.7 333.5h0M341.2 335.9h0M342.6 337.3h0M344.0 338.3h0M344.5 349.8h0M359.7 303.8h0M378.0 316.3h0M367.4 320.7h0M361.2 317.3h0M359.7 319.2h0M357.8 321.2h0M349.1 322.6h0M350.6 324.0h0M352.5 324.5h0M353.9 326.0h0M355.4 326.9h0M356.8 326.4h0M358.8 325.5h0M360.2 326.0h0M361.6 325.0h0M363.1 324.0h0M364.0 326.0h0M365.5 327.4h0M366.9 326.4h0M368.4 325.0h0M369.3 327.9h0M370.8 328.8h0M372.2 329.8h0M353.5 328.8h0M355.4 330.3h0M354.4 332.7h0M357.3 329.3h0M359.2 328.8h0M362.1 328.8h0M364.5 328.4h0M366.4 330.8h0M368.8 331.7h0M370.8 333.2h0M372.7 334.1h0M373.7 336.1h0M374.6 337.5h0M376.5 336.5h0M341.0 325.5h0M342.4 327.9h0M344.3 330.8h0M345.8 332.2h0M347.7 332.7h0M349.1 333.7h0M342.9 333.2h0M344.8 335.6h0M346.7 337.5h0M341.0 330.8h0M364.5 334.1h0M378.0 328.8h0M379.4 327.9h0M381.3 329.8h0M382.8 327.9h0M384.2 326.0h0M385.7 326.9h0M377.0 331.7h0M378.5 333.7h0M385.2 334.1h0M384.2 338.9h0M386.2 314.4h0M388.1 315.4h0M389.0 309.6h0M388.6 312.0h0M364.3 334.3h0M363.4 343.9h0M371.5 333.8h0M373.0 336.7h0M374.4 338.2h0M375.9 339.6h0M377.3 337.2h0M378.8 334.3h0M379.7 342.0h0M380.7 343.0h0M382.6 348.3h0M383.6 350.2h0M380.2 358.4h0M381.2 359.8h0M384.5 339.6h0M385.5 334.3h0M396.8 292.7h0M395.9 295.1h0M395.4 297.0h0M394.9 298.9h0M393.5 300.4h0M391.5 300.9h0M392.5 302.3h0M390.6 304.2h0M397.8 306.2h0M398.3 308.6h0M389.6 308.6h0M389.1 310.5h0M385.8 314.8h0M387.7 314.3h0M389.6 313.8h0M386.7 316.7h0M391.5 316.3h0M392.5 318.2h0M393.9 315.8h0M394.4 317.7h0M395.4 319.6h0M396.8 321.1h0M397.8 322.5h0M407.9 313.4h0M408.8 315.8h0M412.7 322.0h0M414.6 322.5h0M409.8 323.9h0M421.8 317.2h0M423.3 319.1h0M425.2 320.6h0M427.1 322.0h0M429.0 323.5h0M384.8 326.1h0M382.9 328.0h0M381.9 330.4h0M381.0 331.8h0M384.8 334.2h0M384.3 339.5h0M380.5 342.4h0M382.9 348.2h0M383.8 349.6h0M394.4 318.8h0M395.9 320.3h0M397.3 322.2h0M398.3 326.1h0M400.7 326.5h0M401.6 328.5h0M397.8 329.9h0M399.2 331.8h0M398.3 333.8h0M399.7 335.7h0M403.6 332.8h0M405.0 334.2h0M403.1 335.7h0M406.9 337.6h0M403.1 338.6h0M406.0 344.3h0M404.0 345.3h0M402.1 345.8h0M400.2 346.7h0M400.7 349.1h0M407.9 346.7h0M409.3 345.8h0M410.3 343.8h0M411.3 342.4h0M411.7 341.0h0M407.9 327.5h0M410.8 329.9h0M409.8 324.6h0M411.7 323.2h0M413.2 322.2h0M413.7 330.9h0M416.1 329.9h0M418.9 330.9h0M413.2 335.7h0M414.6 337.6h0M416.5 339.5h0M417.0 341.9h0M417.5 345.8h0M418.9 350.1h0M419.4 324.6h0M420.4 326.1h0M421.8 327.5h0M421.3 339.0h0M422.3 343.8h0M422.8 347.2h0M425.2 338.6h0M426.2 341.0h0M427.1 342.9h0M428.1 337.1h0M429.0 334.2h0M422.3 317.9h0M423.8 319.3h0M425.2 320.8h0M426.6 322.2h0M428.1 323.7h0M429.0 325.6h0M428.6 327.5h0M380.5 316.0h0M383.8 317.9h0M385.8 316.9h0M390.6 316.4h0M392.5 318.8h0M408.8 315.5h0M440.9 300.1h0M441.8 302.5h0M442.8 304.4h0M438.0 306.8h0M439.4 308.3h0M440.9 309.7h0M442.3 311.2h0M444.2 310.7h0M445.2 312.1h0M440.4 312.1h0M432.7 309.7h0M431.7 311.2h0M450.0 307.8h0M451.4 310.2h0M445.2 315.5h0M446.6 316.9h0M448.1 318.4h0M449.5 316.0h0M450.5 315.0h0M449.0 319.8h0M447.1 319.3h0M435.6 314.5h0M437.0 316.0h0M434.1 316.4h0M438.5 318.4h0M436.1 317.9h0M433.2 318.4h0M434.6 320.3h0M432.2 319.3h0M431.3 321.7h0M430.8 323.2h0M437.0 323.7h0M451.9 322.7h0M453.4 323.7h0M428.8 325.6h0M428.4 327.0h0M436.1 328.9h0M426.9 322.9h0M428.8 324.8h0M428.8 326.7h0M431.3 322.4h0M430.8 331.1h0M429.8 333.5h0M428.8 335.4h0M427.9 337.3h0M426.4 340.2h0M426.9 343.1h0M426.0 344.5h0M437.0 323.8h0M435.6 328.7h0M451.9 323.4h0M456.7 330.6h0M455.3 332.5h0M457.7 334.9h0M453.4 337.3h0M454.8 339.2h0M456.7 338.8h0M458.7 338.3h0M453.8 341.2h0M455.8 342.1h0M457.7 340.7h0M459.6 341.6h0M456.7 344.5h0M458.7 345.0h0M460.6 344.0h0M459.6 346.9h0M461.1 348.8h0M462.0 350.8h0M462.5 354.6h0M463.5 356.5h0M465.4 358.0h0M467.3 356.5h0M469.2 355.6h0M468.8 349.8h0M457.2 345.5h0M459.1 347.4h0M460.6 349.3h0M462.0 351.3h0M464.4 359.4h0M465.4 361.3h0M466.3 362.8h0M467.3 360.9h0M470.2 362.8h0M471.2 364.2h0M472.1 365.7h0M473.6 366.6h0M475.0 368.1h0M474.5 370.5h0M473.1 371.9h0M472.1 373.4h0M472.6 376.3h0M471.2 383.5h0M483.2 346.4h0M482.7 348.8h0M481.7 350.8h0M480.8 352.7h0M479.3 354.1h0M477.9 355.6h0M476.4 357.5h0M476.0 359.4h0M478.8 356.5h0M480.3 354.6h0M490.7 301.1h0M489.0 303.4h0M487.8 310.3h0M489.0 311.5h0M486.7 314.9h0M487.2 317.8h0M488.4 319.0h0M489.5 321.3h0M485.5 325.3h0M486.1 327.0h0M484.9 331.6h0M483.8 337.9h0M484.4 340.8h0M483.2 343.7h0M483.2 346.6h0M496.5 231.7h0M495.8 233.7h0M495.5 243.8h0M495.1 247.2h0M494.5 250.6h0M494.3 253.0h0M494.0 255.5h0M493.5 258.9h0M494.0 269.0h0M493.1 276.5h0M492.3 278.2h0M491.8 284.1h0M491.4 285.8h0M490.6 294.2h0M489.8 295.5h0M490.6 300.1h0" stroke="#484896" stroke-width="2.45" stroke-linecap="round" fill="none"/>
<rect x="177.3" y="5.3" width="80.10" height="18.00" fill="#fff" stroke="#a8a8a8" stroke-width="0.7"/>
<circle cx="185.40" cy="10.40" r="1.05" fill="#c63a4e"/>
<circle cx="185.40" cy="18.40" r="1.05" fill="#484896"/>
<text x="192.70" y="12.40" class="lg">Levenberg- Marquardt fit</text>
<text x="192.70" y="20.40" class="lg">The proposed method fit</text>
<rect x="434.4" y="3.3" width="79.80" height="17.50" fill="#fff" stroke="#a8a8a8" stroke-width="0.7"/>
<circle cx="442.50" cy="8.40" r="1.05" fill="#c63a4e"/>
<circle cx="442.50" cy="16.40" r="1.05" fill="#484896"/>
<text x="449.80" y="10.40" class="lg">Levenberg- Marquardt fit</text>
<text x="449.80" y="18.40" class="lg">The proposed method fit</text>
<rect x="177.3" y="210.6" width="79.70" height="17.70" fill="#fff" stroke="#a8a8a8" stroke-width="0.7"/>
<circle cx="185.40" cy="215.80" r="1.05" fill="#c63a4e"/>
<circle cx="185.40" cy="223.90" r="1.05" fill="#484896"/>
<text x="192.70" y="217.80" class="lg">Levenberg- Marquardt fit</text>
<text x="192.70" y="225.90" class="lg">The proposed method fit</text>
<rect x="433.7" y="209.6" width="80.00" height="17.80" fill="#fff" stroke="#a8a8a8" stroke-width="0.7"/>
<circle cx="441.80" cy="214.80" r="1.05" fill="#c63a4e"/>
<circle cx="441.80" cy="223.10" r="1.05" fill="#484896"/>
<text x="449.60" y="216.80" class="lg">Levenberg- Marquardt fit</text>
<text x="449.60" y="225.10" class="lg">The proposed method fit</text>
<text x="45.20" y="201.45" class="tk" text-anchor="middle">0</text>
<text x="87.93" y="201.45" class="tk" text-anchor="middle">100</text>
<text x="130.66" y="201.45" class="tk" text-anchor="middle">200</text>
<text x="173.39" y="201.45" class="tk" text-anchor="middle">300</text>
<text x="216.12" y="201.45" class="tk" text-anchor="middle">400</text>
<text x="258.85" y="201.45" class="tk" text-anchor="middle">500</text>
<text x="18.35" y="4.54" class="tk" text-anchor="end">0.08</text>
<text x="18.35" y="62.17" class="tk" text-anchor="end">0.04</text>
<text x="18.35" y="119.80" class="tk" text-anchor="end">0.00</text>
<text x="18.35" y="177.43" class="tk" text-anchor="end">-0.04</text>
<path d="M45.20 190.45v3.0M45.20 3.15v3.0M66.56 190.45v1.8M66.56 3.15v1.8M87.93 190.45v3.0M87.93 3.15v3.0M109.30 190.45v1.8M109.30 3.15v1.8M130.66 190.45v3.0M130.66 3.15v3.0M152.03 190.45v1.8M152.03 3.15v1.8M173.39 190.45v3.0M173.39 3.15v3.0M194.75 190.45v1.8M194.75 3.15v1.8M216.12 190.45v3.0M216.12 3.15v3.0M237.49 190.45v1.8M237.49 3.15v1.8M258.85 190.45v3.0M258.85 3.15v3.0M23.85 3.14h-3.0M258.85 3.14h-3.0M23.85 60.77h-3.0M258.85 60.77h-3.0M23.85 118.40h-3.0M258.85 118.40h-3.0M23.85 176.03h-3.0M258.85 176.03h-3.0M23.85 31.95h-1.8M258.85 31.95h-1.8M23.85 89.58h-1.8M258.85 89.58h-1.8M23.85 147.22h-1.8M258.85 147.22h-1.8" stroke="#000" stroke-width="1.1" fill="none"/>
<rect x="23.85" y="3.15" width="235.00" height="187.30" fill="none" stroke="#000" stroke-width="1.5"/>
<text x="141.20" y="206.50" class="ttl" text-anchor="middle">Sample point</text>
<text x="0" y="0" class="rs" text-anchor="middle" transform="translate(6.7,96.40) rotate(-90)">Residual</text>
<text x="28.0" y="20.0" class="pl">(a)</text>
<text x="301.37" y="201.40" class="tk" text-anchor="middle">0</text>
<text x="344.11" y="201.40" class="tk" text-anchor="middle">100</text>
<text x="386.84" y="201.40" class="tk" text-anchor="middle">200</text>
<text x="429.58" y="201.40" class="tk" text-anchor="middle">300</text>
<text x="472.31" y="201.40" class="tk" text-anchor="middle">400</text>
<text x="515.05" y="201.40" class="tk" text-anchor="middle">500</text>
<text x="274.50" y="4.54" class="tk" text-anchor="end">0.08</text>
<text x="274.50" y="66.97" class="tk" text-anchor="end">0.04</text>
<text x="274.50" y="129.40" class="tk" text-anchor="end">0.00</text>
<text x="274.50" y="191.83" class="tk" text-anchor="end">-0.04</text>
<path d="M301.37 190.40v3.0M301.37 3.10v3.0M322.74 190.40v1.8M322.74 3.10v1.8M344.11 190.40v3.0M344.11 3.10v3.0M365.47 190.40v1.8M365.47 3.10v1.8M386.84 190.40v3.0M386.84 3.10v3.0M408.21 190.40v1.8M408.21 3.10v1.8M429.58 190.40v3.0M429.58 3.10v3.0M450.95 190.40v1.8M450.95 3.10v1.8M472.31 190.40v3.0M472.31 3.10v3.0M493.68 190.40v1.8M493.68 3.10v1.8M515.05 190.40v3.0M515.05 3.10v3.0M280.00 3.14h-3.0M515.05 3.14h-3.0M280.00 65.57h-3.0M515.05 65.57h-3.0M280.00 128.00h-3.0M515.05 128.00h-3.0M280.00 190.43h-3.0M515.05 190.43h-3.0M280.00 34.35h-1.8M515.05 34.35h-1.8M280.00 96.78h-1.8M515.05 96.78h-1.8M280.00 159.22h-1.8M515.05 159.22h-1.8" stroke="#000" stroke-width="1.1" fill="none"/>
<rect x="280.0" y="3.1" width="235.05" height="187.30" fill="none" stroke="#000" stroke-width="1.5"/>
<text x="395.10" y="206.60" class="ttl" text-anchor="middle">Sample point</text>
<text x="284.0" y="22.0" class="pl">(b)</text>
<text x="45.20" y="407.40" class="tk" text-anchor="middle">0</text>
<text x="87.91" y="407.40" class="tk" text-anchor="middle">100</text>
<text x="130.62" y="407.40" class="tk" text-anchor="middle">200</text>
<text x="173.33" y="407.40" class="tk" text-anchor="middle">300</text>
<text x="216.04" y="407.40" class="tk" text-anchor="middle">400</text>
<text x="258.75" y="407.40" class="tk" text-anchor="middle">500</text>
<text x="18.35" y="210.47" class="tk" text-anchor="end">0.08</text>
<text x="18.35" y="263.98" class="tk" text-anchor="end">0.04</text>
<text x="18.35" y="317.50" class="tk" text-anchor="end">0.00</text>
<text x="18.35" y="371.02" class="tk" text-anchor="end">-0.04</text>
<path d="M45.20 396.40v3.0M45.20 209.10v3.0M66.55 396.40v1.8M66.55 209.10v1.8M87.91 396.40v3.0M87.91 209.10v3.0M109.26 396.40v1.8M109.26 209.10v1.8M130.62 396.40v3.0M130.62 209.10v3.0M151.97 396.40v1.8M151.97 209.10v1.8M173.33 396.40v3.0M173.33 209.10v3.0M194.68 396.40v1.8M194.68 209.10v1.8M216.04 396.40v3.0M216.04 209.10v3.0M237.39 396.40v1.8M237.39 209.10v1.8M258.75 396.40v3.0M258.75 209.10v3.0M23.85 209.07h-3.0M258.75 209.07h-3.0M23.85 262.58h-3.0M258.75 262.58h-3.0M23.85 316.10h-3.0M258.75 316.10h-3.0M23.85 369.62h-3.0M258.75 369.62h-3.0M23.85 235.83h-1.8M258.75 235.83h-1.8M23.85 289.34h-1.8M258.75 289.34h-1.8M23.85 342.86h-1.8M258.75 342.86h-1.8" stroke="#000" stroke-width="1.1" fill="none"/>
<rect x="23.85" y="209.1" width="234.90" height="187.30" fill="none" stroke="#000" stroke-width="1.5"/>
<text x="140.80" y="414.50" class="ttl" text-anchor="middle">Sample point</text>
<text x="0" y="0" class="rs" text-anchor="middle" transform="translate(6.7,302.60) rotate(-90)">Residual</text>
<text x="28.0" y="228.0" class="pl">(c)</text>
<text x="301.48" y="406.60" class="tk" text-anchor="middle">0</text>
<text x="344.24" y="406.60" class="tk" text-anchor="middle">100</text>
<text x="387.01" y="406.60" class="tk" text-anchor="middle">200</text>
<text x="429.77" y="406.60" class="tk" text-anchor="middle">300</text>
<text x="472.54" y="406.60" class="tk" text-anchor="middle">400</text>
<text x="515.30" y="406.60" class="tk" text-anchor="middle">500</text>
<text x="274.60" y="222.96" class="tk" text-anchor="end">0.08</text>
<text x="274.60" y="276.48" class="tk" text-anchor="end">0.04</text>
<text x="274.60" y="330.00" class="tk" text-anchor="end">0.00</text>
<text x="274.60" y="383.52" class="tk" text-anchor="end">-0.04</text>
<path d="M301.48 395.60v3.0M301.48 208.15v3.0M322.86 395.60v1.8M322.86 208.15v1.8M344.24 395.60v3.0M344.24 208.15v3.0M365.63 395.60v1.8M365.63 208.15v1.8M387.01 395.60v3.0M387.01 208.15v3.0M408.39 395.60v1.8M408.39 208.15v1.8M429.77 395.60v3.0M429.77 208.15v3.0M451.15 395.60v1.8M451.15 208.15v1.8M472.54 395.60v3.0M472.54 208.15v3.0M493.92 395.60v1.8M493.92 208.15v1.8M515.30 395.60v3.0M515.30 208.15v3.0M280.10 221.56h-3.0M515.30 221.56h-3.0M280.10 275.08h-3.0M515.30 275.08h-3.0M280.10 328.60h-3.0M515.30 328.60h-3.0M280.10 382.12h-3.0M515.30 382.12h-3.0M280.10 248.32h-1.8M515.30 248.32h-1.8M280.10 301.84h-1.8M515.30 301.84h-1.8M280.10 355.36h-1.8M515.30 355.36h-1.8" stroke="#000" stroke-width="1.1" fill="none"/>
<rect x="280.1" y="208.15" width="235.20" height="187.45" fill="none" stroke="#000" stroke-width="1.5"/>
<text x="397.30" y="413.40" class="ttl" text-anchor="middle">Sample point</text>
<text x="284.8" y="229.3" class="pl">(d)</text>
</svg></body></html>
